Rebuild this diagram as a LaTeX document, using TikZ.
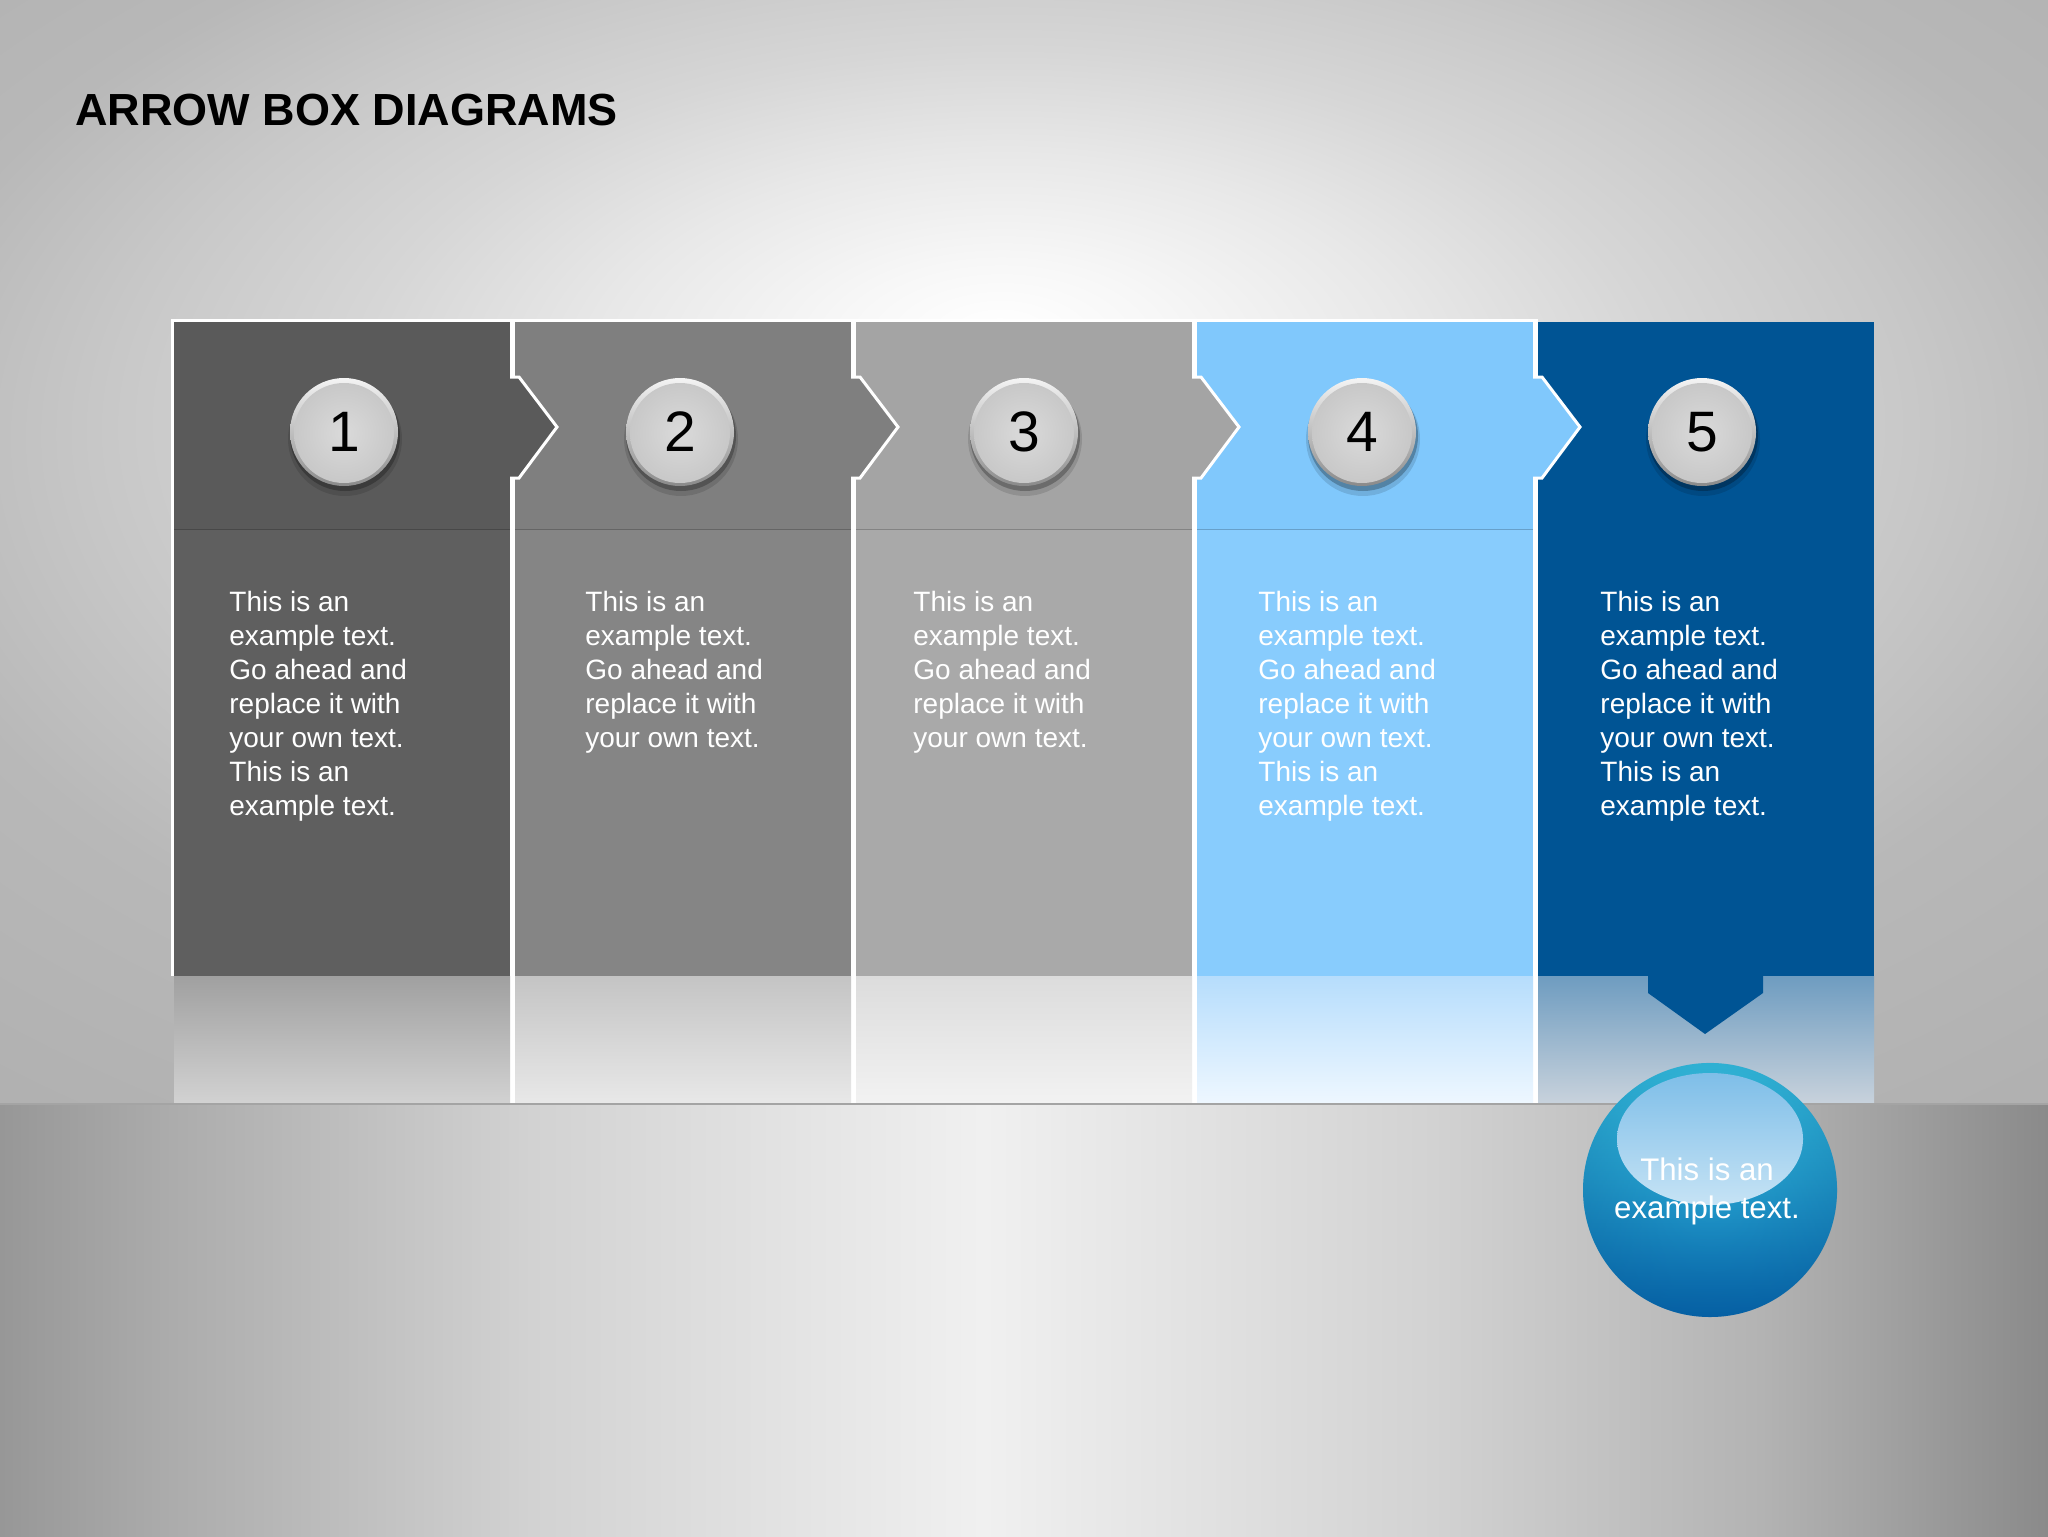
\documentclass[tikz,border=0pt]{standalone}
\usepackage{fontspec}
\setmainfont{Liberation Sans}
\usepackage{tikz}
\usetikzlibrary{positioning}
\usetikzlibrary{fadings}

% box colours: header, body, reflection top and bottom
\definecolor{headA}{HTML}{5A5A5A}
\definecolor{bodyA}{HTML}{5F5F5F}
\definecolor{reflA}{HTML}{A0A0A0}
\definecolor{fadeA}{HTML}{D2D2D2}
\definecolor{headB}{HTML}{7F7F7F}
\definecolor{bodyB}{HTML}{858585}
\definecolor{reflB}{HTML}{C4C4C4}
\definecolor{fadeB}{HTML}{E8E8E8}
\definecolor{headC}{HTML}{A4A4A4}
\definecolor{bodyC}{HTML}{A9A9A9}
\definecolor{reflC}{HTML}{DCDCDC}
\definecolor{fadeC}{HTML}{F2F2F2}
\definecolor{headD}{HTML}{80C8FC}
\definecolor{bodyD}{HTML}{88CCFD}
\definecolor{reflD}{HTML}{B6DDFC}
\definecolor{fadeD}{HTML}{EEF7FF}
\definecolor{headE}{HTML}{005494}
\definecolor{bodyE}{HTML}{005494}
\definecolor{reflE}{HTML}{6E9CC0}
\definecolor{fadeE}{HTML}{C8D2DC}

% buttons and ball
\definecolor{btnhi}{HTML}{F4F4F4}
\definecolor{btnlo}{HTML}{8A8A8A}
\definecolor{btnin}{HTML}{DADADA}
\definecolor{btnout}{HTML}{C8C8C8}
\definecolor{sphtop}{HTML}{42D8F0}
\definecolor{sphmid}{HTML}{1A94D8}
\definecolor{sphbot}{HTML}{0868AE}
\definecolor{sphedge}{HTML}{004A88}
\definecolor{glosstop}{HTML}{7EBEE8}
\definecolor{glossbot}{HTML}{C6E3F5}
\definecolor{floorline}{HTML}{A4A4A4}

% wall and floor
\definecolor{wallA}{HTML}{FFFFFF}
\definecolor{wallB}{HTML}{F7F7F7}
\definecolor{wallC}{HTML}{E8E8E8}
\definecolor{wallD}{HTML}{D6D6D6}
\definecolor{wallE}{HTML}{C8C8C8}
\definecolor{wallF}{HTML}{B8B8B8}
\definecolor{wallG}{HTML}{A6A6A6}
\definecolor{floorA}{HTML}{979797}
\definecolor{floorB}{HTML}{ABABAB}
\definecolor{floorC}{HTML}{D2D2D2}
\definecolor{floorD}{HTML}{F0F0F0}
\definecolor{floorE}{HTML}{B3B3B3}
\definecolor{floorF}{HTML}{8A8A8A}

\pgfdeclareradialshading{backwall}{\pgfpoint{-0.6bp}{10bp}}{color(0bp)=(wallA); color(4bp)=(wallB); color(10bp)=(wallC); color(16bp)=(wallD); color(22bp)=(wallE); color(28bp)=(wallF); color(50bp)=(wallG)}
\pgfdeclarehorizontalshading{floor}{100bp}{color(0bp)=(floorA); color(25bp)=(floorA); color(29bp)=(floorB); color(38bp)=(floorC); color(49bp)=(floorD); color(60bp)=(floorC); color(68bp)=(floorE); color(75bp)=(floorF); color(100bp)=(floorF)}
\tikzfading[name=sphfade, inner color=transparent!100, outer color=transparent!72]

\newcommand{\boxtextlong}{This is an\\example text.\\Go ahead and\\replace it with\\your own text.\\This is an\\example text.}
\newcommand{\boxtextshort}{This is an\\example text.\\Go ahead and\\replace it with\\your own text.}

\begin{document}
\begin{tikzpicture}[x=0.5pt,y=-0.5pt,
  bodytext/.style={anchor=north west,inner sep=0pt,align=left,text=white,font=\fontsize{14}{17}\selectfont},
  numtext/.style={inner sep=0pt,text=black,font=\fontsize{28.5}{30}\selectfont},
  spheretext/.style={inner sep=0pt,align=center,text=white,font=\fontsize{15.6}{19}\selectfont},
  whiteline/.style={draw=white,line width=1.5pt,line join=miter}]

% Slide background: wall and floor
\useasboundingbox (0,0) rectangle (2048,1536);
\shade[shading=backwall] (0,0) rectangle (2048,1104);
\shade[shading=floor] (0,1104) rectangle (2048,1536);

% Title
\node[anchor=base west,inner sep=0pt,font=\bfseries\fontsize{22.5}{26}\selectfont] (title) at (75,126) {ARROW BOX DIAGRAMS};

% White frame behind the boxes
\fill[white] (171,319) rectangle (1538,976);
\foreach \g in {510,851,1192,1533}
{
\fill[white] (\g,976) rectangle ++(5,128);
}

% Boxes: header, body and reflection
\foreach \i/\hd/\bd/\rt/\rb in {1/headA/bodyA/reflA/fadeA,2/headB/bodyB/reflB/fadeB,3/headC/bodyC/reflC/fadeC,4/headD/bodyD/reflD/fadeD,5/headE/bodyE/reflE/fadeE}
{
\pgfmathparse{174+(\i-1)*341}
\edef\bx{\pgfmathresult}
\fill[\hd] (\bx,322) rectangle ++(336,207);
\fill[\bd] (\bx,529) rectangle ++(336,447);
\shade[top color=\rt,bottom color=\rb] (\bx,976) rectangle ++(336,127);
}

% Separator line and arrow tip of boxes 1 to 4
\foreach \i/\hd in {1/headA,2/headB,3/headC,4/headD}
{
\pgfmathparse{174+(\i-1)*341}
\edef\bx{\pgfmathresult}
\draw[\hd!80!black,line width=0.5pt] (\bx,529) -- ++(336,0);
\filldraw[fill=\hd,whiteline] (\bx+336,377) -- ++(9,0) -- ++(38,50) -- ++(-38,51) -- ++(-9,0);
}

% Down arrow of box 5
\fill[headE] (1648,975) -- ++(0,18) -- ++(57,41) -- ++(58,-41) -- ++(0,-18) -- cycle;

% Floor edge
\draw[floorline,line width=1pt] (0,1104) -- (2048,1104);

% Number buttons
\foreach \i/\nx in {1/344,2/680,3/1024,4/1362,5/1702}
{
\fill[black,opacity=.12] (\nx+1,439) circle (57);
\fill[black,opacity=.25] (\nx+1,436) circle (55);
\shade[top color=btnhi,bottom color=btnlo] (\nx,432) circle (54);
\shade[inner color=btnin,outer color=btnout] (\nx,433) circle (50);
\node[numtext] (num\i) at (\nx,432) {\i};
}

% Body texts
\foreach \i/\tx/\txt in {1/229/\boxtextlong,2/585/\boxtextshort,3/913/\boxtextshort,4/1258/\boxtextlong,5/1600/\boxtextlong}
{
\node[bodytext] (txt\i) at (\tx,591) {\txt};
}

% Glass ball under box 5
\shade[top color=sphtop,middle color=sphmid,bottom color=sphbot] (1710,1190) circle (127);
\fill[sphedge,path fading=sphfade] (1710,1190) circle (127);
\shade[top color=glosstop,bottom color=glossbot] (1710,1139) ellipse [x radius=93,y radius=66];
\node[spheretext] (ball) at (1707,1191) {This is an\\example text.};

\end{tikzpicture}
\end{document}
